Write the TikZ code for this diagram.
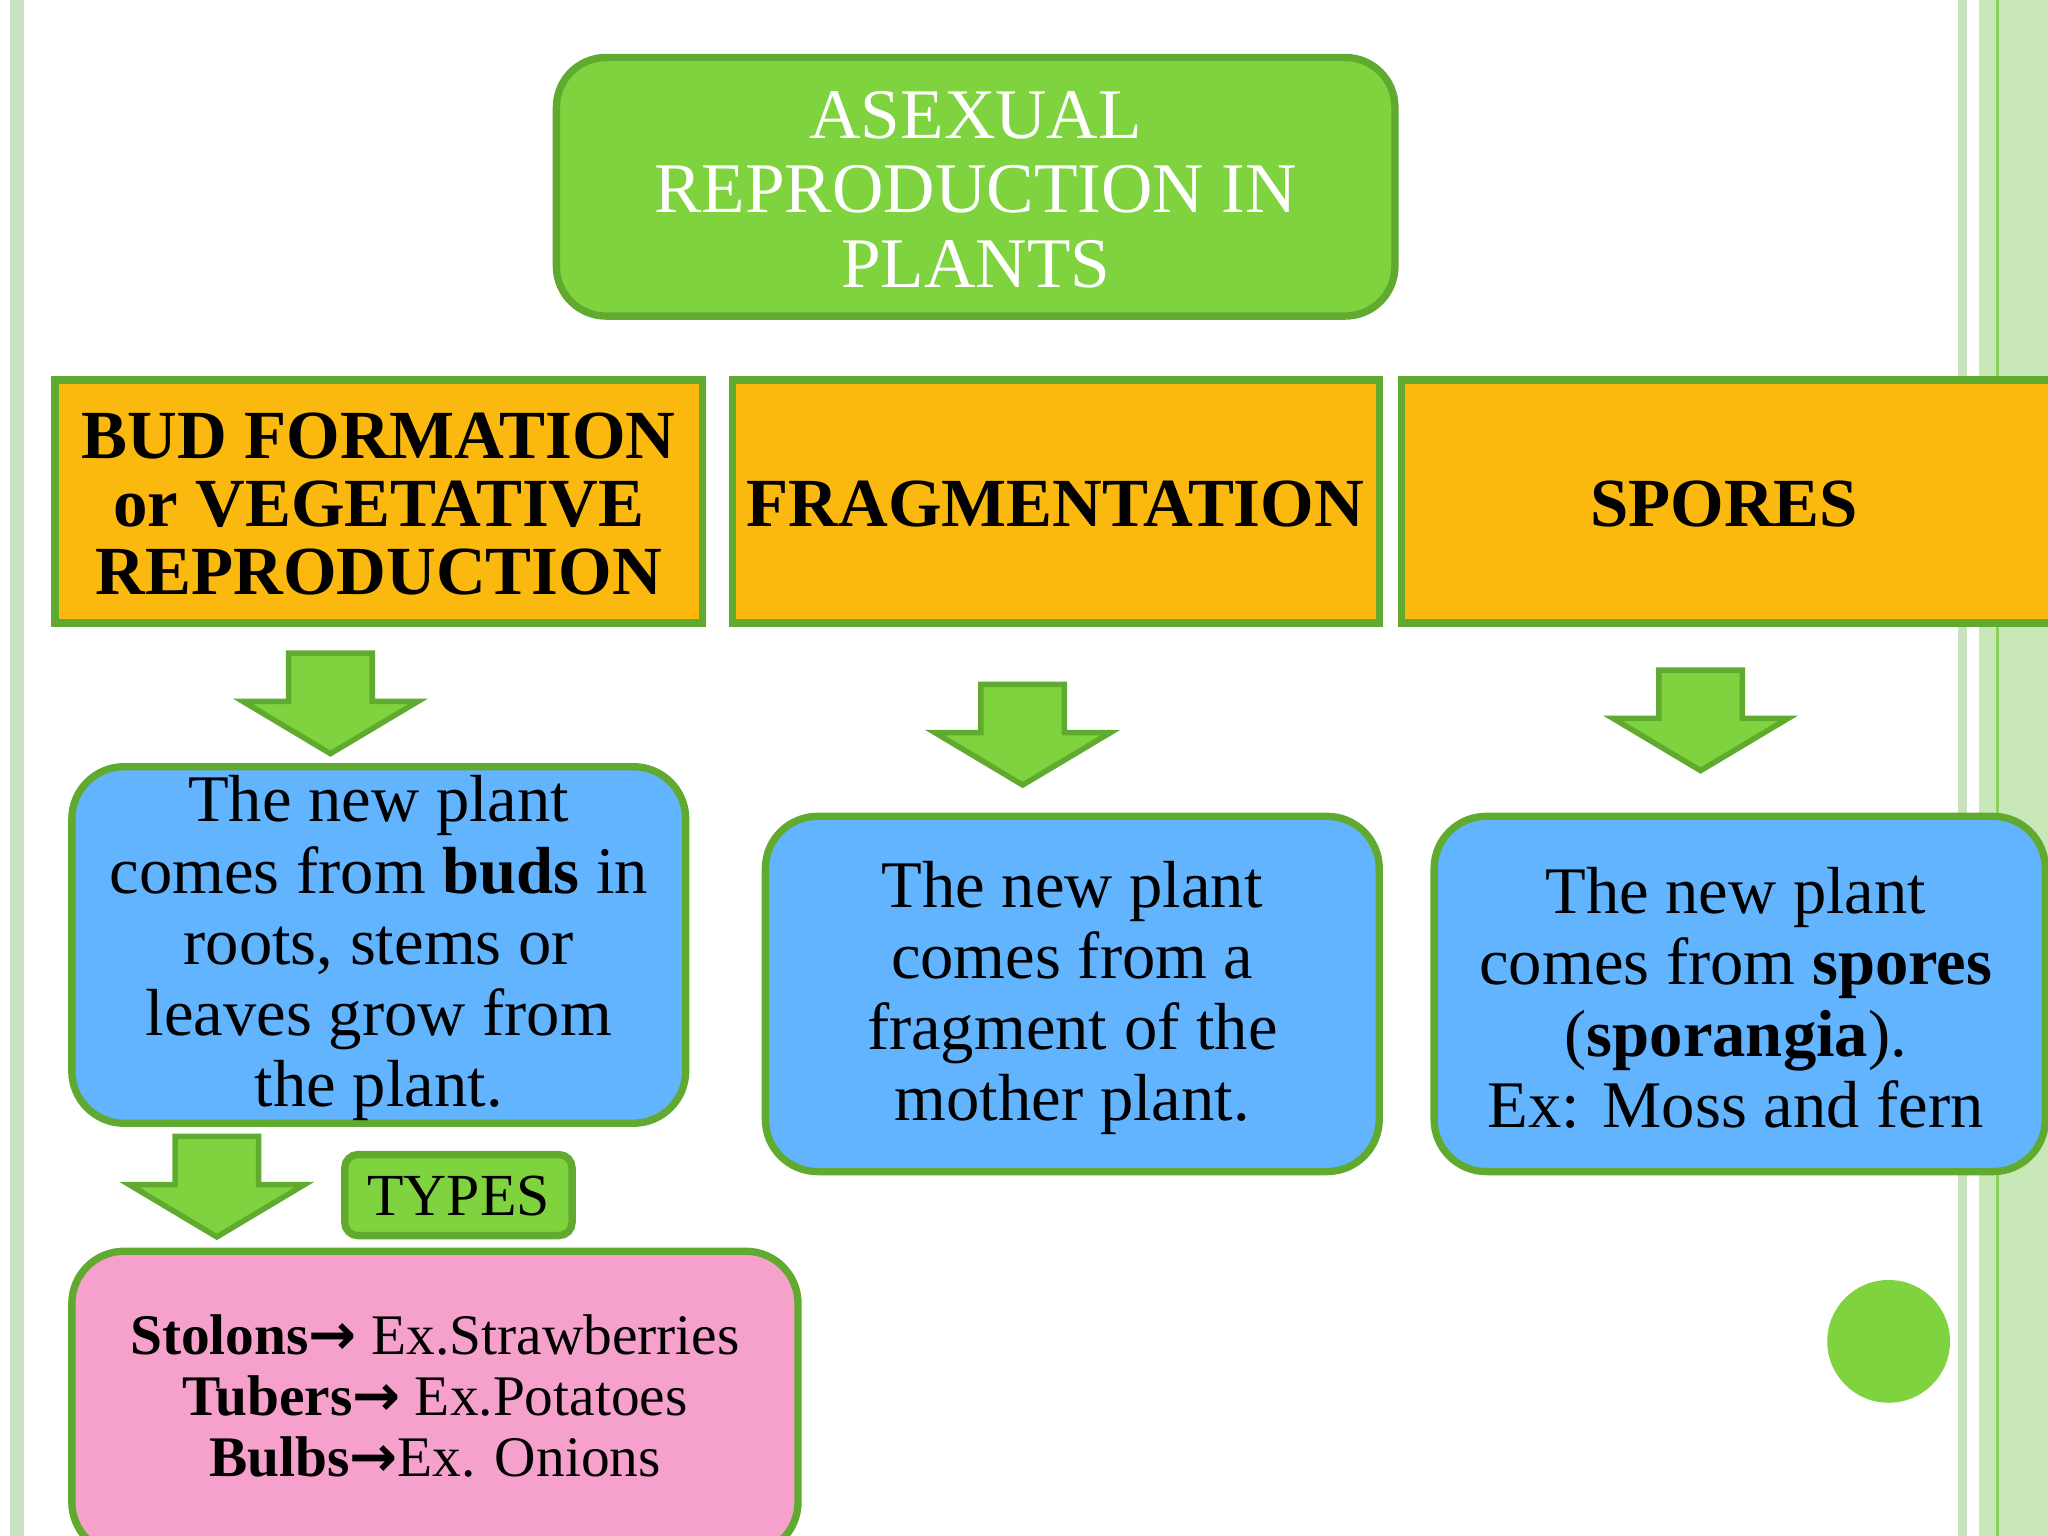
\documentclass[tikz,border=0pt]{standalone}
\usepackage{fontspec}
\setmainfont{Liberation Serif}
\newfontfamily\arrowfont{DejaVu Sans}
\newcommand{\myarr}{{\arrowfont\bfseries →}}
\begin{document}
\definecolor{gfill}{RGB}{126,211,63}
\definecolor{gline}{RGB}{96,170,48}
\definecolor{ofill}{RGB}{251,184,15}
\definecolor{bfill}{RGB}{98,180,255}
\definecolor{pfill}{RGB}{246,161,203}
\definecolor{stripe}{RGB}{200,232,184}
\definecolor{stripe2}{RGB}{201,227,192}
\definecolor{sline}{RGB}{140,208,96}
\begin{tikzpicture}[x=0.01cm,y=-0.01cm,
  box/.style={draw=gline,line width=1.6pt},
  rbox/.style={box,rounded corners=0.4cm},
  txt/.style={align=center,font=\fontsize{14.5}{15.5}\selectfont},
  arr/.style={fill=gfill,draw=gline,line width=1.2pt}]
\useasboundingbox (0,0) rectangle (1568,1176);
\fill[white] (0,0) rectangle (1568,1176);
\fill[stripe2] (8,0) rectangle (18,1176);
\fill[stripe2] (1499,0) rectangle (1506,1176);
\fill[stripe] (1515,0) rectangle (1568,1176);
\fill[sline] (1528.5,0) rectangle (1530.5,1176);
% title
\draw[rbox,fill=gfill,rounded corners=0.38cm] (426,44) rectangle (1068,242);
\node[txt,text=white,font=\fontsize{15.5}{16.2}\selectfont] (t) at (747,145) {ASEXUAL\\REPRODUCTION IN\\PLANTS};
% orange
\draw[box,fill=ofill] (42,291) rectangle (538,477);
\node[txt,font=\bfseries\fontsize{15}{14.8}\selectfont] (o1) at (290,386) {BUD FORMATION\\or VEGETATIVE\\REPRODUCTION};
\draw[box,fill=ofill] (561,291) rectangle (1056,477);
\node[txt,font=\bfseries\fontsize{15}{15}\selectfont] (o2) at (808,386) {FRAGMENTATION};
\draw[box,fill=ofill] (1073,291) rectangle (1575,477);
\node[txt,font=\bfseries\fontsize{15}{15}\selectfont] (o3) at (1320,386) {SPORES};
% arrows
\foreach \cx/\ty in {253/500,783/524,1302/513,166/870}{
  \draw[arr] (\cx-32,\ty) -- (\cx+32,\ty) -- (\cx+32,\ty+37) -- (\cx+67,\ty+37) -- (\cx,\ty+77) -- (\cx-67,\ty+37) -- (\cx-32,\ty+37) -- cycle;}
% blue
\draw[rbox,fill=bfill] (55,587) rectangle (525,860);
\node[txt] (b1) at (290,726) {The new plant\\comes from \textbf{buds} in\\roots, stems or\\leaves grow from\\the plant.};
\draw[rbox,fill=bfill] (586,625) rectangle (1056,897);
\node[txt] (b2) at (821,764) {The new plant\\comes from a\\fragment of the\\mother plant.};
\draw[rbox,fill=bfill] (1098,625) rectangle (1566,897);
\node[txt] (b3) at (1329,764) {The new plant\\comes from \textbf{spores}\\(\textbf{sporangia}).\\Ex: Moss and fern};
% types
\draw[box,fill=gfill,rounded corners=0.1cm] (264,884) rectangle (438,946);
\node[txt,font=\fontsize{13}{13}\selectfont] (ty) at (351,916) {TYPES};
% pink
\draw[rbox,fill=pfill] (55,958) rectangle (611,1190);
\node[txt,font=\fontsize{12.5}{13.3}\selectfont] (p) at (333,1069) {\textbf{Stolons}\myarr{} Ex.Strawberries\\\textbf{Tubers}\myarr{} Ex.Potatoes\\\textbf{Bulbs}\myarr{}Ex. Onions};
\fill[gfill] (1446,1027) circle[radius=47];
\end{tikzpicture}
\end{document}
